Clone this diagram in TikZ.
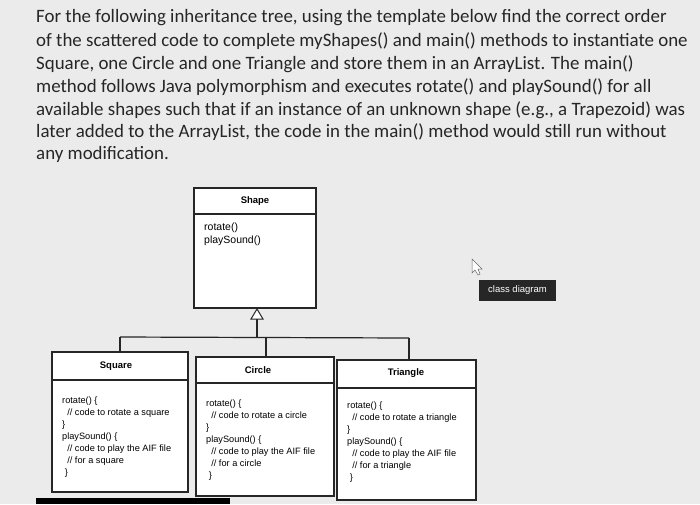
\documentclass[tikz,border=0pt]{standalone}
\usepackage{fontspec}
\setmainfont{Carlito}
\newfontfamily\boxfont{Liberation Sans}
\usetikzlibrary{arrows.meta}
\begin{document}
\begin{tikzpicture}[x=1pt,y=-1pt,
  para/.style={anchor=west,inner sep=0,font=\fontsize{18.9}{20}\selectfont,text=black!85},
  cls/.style={draw=black!85,line width=1.3pt,fill=white},
  ttl/.style={font=\boxfont\bfseries\fontsize{9.5}{10}\selectfont,inner sep=0},
  body/.style={anchor=north west,align=left,inner sep=0,font=\boxfont\fontsize{9.2}{12}\selectfont},
  conn/.style={draw=black!85,line width=1.2pt}]
\fill[black!8] (0,0) rectangle (700,504);
\useasboundingbox (0,0) rectangle (700,504);
\node[para] (l1) at (36,18) {For the following inheritance tree, using the template below find the correct order};
\node[para] (l2) at (36,41) {of the scattered code to complete myShapes() and main() methods to instantiate one};
\node[para] (l3) at (36,64) {Square, one Circle and one Triangle and store them in an ArrayList. The main()};
\node[para] (l4) at (36,87) {method follows Java polymorphism and executes rotate() and playSound() for all};
\node[para] (l5) at (36,110) {available shapes such that if an instance of an unknown shape (e.g., a Trapezoid) was};
\node[para] (l6) at (36,132) {later added to the ArrayList, the code in the main() method would still run without};
\node[para] (l7) at (36,154) {any modification.};
% Shape
\draw[cls] (194,188) rectangle (316,308);
\draw[cls] (194,214) -- (316,214);
\node[ttl] (shape) at (255,201) {Shape};
\node[body,font=\boxfont\fontsize{10.5}{13}\selectfont] (sb) at (204,223) {rotate()\\playSound()};
% connectors
\coordinate (tip) at (257,309);
\coordinate (j) at (257,337);
\coordinate (js) at (120,337);
\coordinate (jt) at (409,338);
\draw[conn] (js) -- (jt);
\draw[conn] (j) -- (257,319);
\draw[conn,fill=white,line width=1pt] (tip) -- (251,319) -- (263,319) -- cycle;
\draw[conn] (js) -- (120,352);
\draw[conn] (266,337) -- (266,357);
\draw[conn] (jt) -- (409,360);
% Square
\draw[cls] (52,352) rectangle (188,492);
\draw[cls] (52,380) -- (188,380);
\node[ttl] (sq) at (116,366) {Square};
\node[body] (sqb) at (62,397) {rotate() \{\\\ \ // code to rotate a square\\\}\\playSound() \{\\\ \ // code to play the AIF file\\\ \ // for a square\\\ \}};
% Circle
\draw[cls] (196,357) rectangle (334,496);
\draw[cls] (196,383) -- (334,383);
\node[ttl] (ci) at (258,370) {Circle};
\node[body] (cib) at (206,400) {rotate() \{\\\ \ // code to rotate a circle\\\}\\playSound() \{\\\ \ // code to play the AIF file\\\ \ // for a circle\\\ \}};
% Triangle
\draw[cls] (337,360) rectangle (476,500);
\draw[cls] (337,388) -- (476,388);
\node[ttl] (tr) at (406,373) {Triangle};
\node[body] (trb) at (347,402) {rotate() \{\\\ \ // code to rotate a triangle\\\}\\playSound() \{\\\ \ // code to play the AIF file\\\ \ // for a triangle\\\ \}};
% tooltip
\node[fill=black!85,text=white,font=\boxfont\fontsize{9.5}{10}\selectfont,minimum width=77pt,minimum height=21pt,inner sep=0] (tt) at (517.5,290) {class diagram};
\draw[black!60,fill=white,line width=0.5pt] (472,259) -- (472,273) -- (475,270) -- (478,275) -- (480,274) -- (478,269) -- (482,269) -- cycle;
\fill[black] (36,498) rectangle (230,504);
\end{tikzpicture}
\end{document}
